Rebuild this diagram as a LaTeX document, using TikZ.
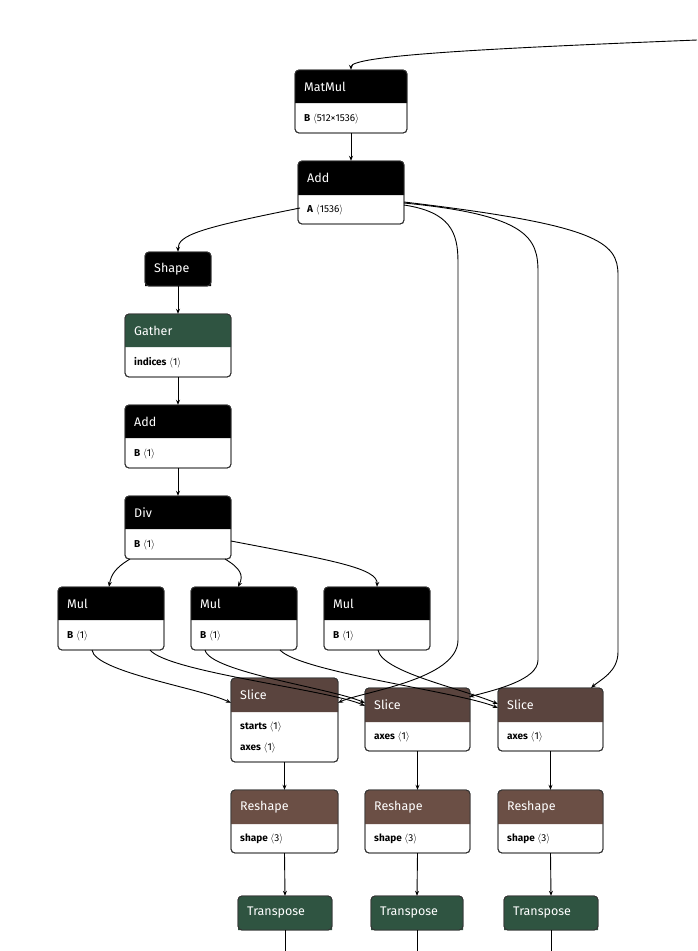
\documentclass[tikz,border=0pt]{standalone}
\usepackage{fontspec}
\setmainfont{Fira Sans}
\usetikzlibrary{fit,arrows.meta}
\definecolor{grn}{HTML}{2F5441}
\definecolor{slc}{HTML}{5A443E}
\definecolor{rsh}{HTML}{6B4F45}
\newcommand\la{\ensuremath{\langle}}
\newcommand\ra{\ensuremath{\rangle}}
\tikzset{
 edge/.style={draw=black,line width=0.9pt,-{Stealth[length=5pt,width=4pt]}},
 ttl/.style={anchor=west,text=white,font=\fontsize{12.5}{14}\selectfont,inner sep=0},
 row/.style={anchor=west,font=\fontsize{10}{11}\selectfont,inner sep=0},
}
% name x1 y1 x2 yh y2 color title
\newcommand\opn[8]{%
 \filldraw[fill=white,draw=black!80,line width=0.9pt,rounded corners=4pt] (#2,#3) rectangle (#4,#6);
 \fill[#7] (#2,#5) [rounded corners=4pt] -- (#2,#3) -- (#4,#3) [sharp corners] -- (#4,#5) -- cycle;
 \draw[black!80,line width=0.9pt,rounded corners=4pt] (#2,#3) rectangle (#4,#6);
 \node[fit={(#2,#3) (#4,#6)},inner sep=0] (#1) {};
 \node[ttl] (#1-t) at (#2+9,{(#3+#5)/2}) {#8};
}
\begin{document}
\begin{tikzpicture}[x=1pt,y=-1pt]
\useasboundingbox (0,0) rectangle (697,951);
\opn{mm}{295}{70}{407}{103}{133}{black}{MatMul}
\node[row] (mmr) at (304,119) {\textbf{B} \la512×1536\ra};
\opn{a1}{298}{161}{404}{195}{224}{black}{Add}
\node[row] (a1r) at (307,210) {\textbf{A} \la1536\ra};
\opn{sh}{145}{252}{211}{286}{286}{black}{Shape}
\opn{ga}{125}{314}{231}{347}{377}{grn}{Gather}
\node[row] (gar) at (134,363) {\textbf{indices} \la1\ra};
\opn{a2}{125}{405}{231}{438}{468}{black}{Add}
\node[row] (a2r) at (134,454) {\textbf{B} \la1\ra};
\opn{dv}{125}{496}{231}{529}{559}{black}{Div}
\node[row] (dvr) at (134,545) {\textbf{B} \la1\ra};
\opn{m1}{58}{587}{164}{620}{650}{black}{Mul}
\node[row] (m1r) at (67,636) {\textbf{B} \la1\ra};
\opn{m2}{191}{587}{297}{620}{650}{black}{Mul}
\node[row] (m2r) at (200,636) {\textbf{B} \la1\ra};
\opn{m3}{324}{587}{430}{620}{650}{black}{Mul}
\node[row] (m3r) at (333,636) {\textbf{B} \la1\ra};
\opn{s1}{231}{678}{338}{712}{762}{slc}{Slice}
\node[row] (s1r) at (240,727) {\textbf{starts} \la1\ra};
\node[row] (s1s) at (240,748) {\textbf{axes} \la1\ra};
\opn{s2}{365}{688}{470}{722}{751}{slc}{Slice}
\node[row] (s2r) at (374,737) {\textbf{axes} \la1\ra};
\opn{s3}{498}{688}{603}{722}{751}{slc}{Slice}
\node[row] (s3r) at (507,737) {\textbf{axes} \la1\ra};
\opn{r1}{231}{790}{338}{824}{853}{rsh}{Reshape}
\node[row] (r1r) at (240,839) {\textbf{shape} \la3\ra};
\opn{r2}{365}{790}{470}{824}{853}{rsh}{Reshape}
\node[row] (r2r) at (374,839) {\textbf{shape} \la3\ra};
\opn{r3}{498}{790}{603}{824}{853}{rsh}{Reshape}
\node[row] (r3r) at (507,839) {\textbf{shape} \la3\ra};
\opn{t1}{238}{896}{332}{930}{930}{grn}{Transpose}
\opn{t2}{371}{896}{463}{930}{930}{grn}{Transpose}
\opn{t3}{504}{896}{598}{930}{930}{grn}{Transpose}
\coordinate (in) at (697,40);
\coordinate (o1) at (285,951);
\coordinate (o2) at (417,951);
\coordinate (o3) at (551,951);
% edges
\draw[edge] (in) .. controls (500,48) and (351,55) .. (mm.north);
\draw[edge] (mm.south) -- (a1.north);
\draw[edge] (300,208) .. controls (200,228) and (178,235) .. (sh.north);
\draw[edge] (404,205) .. controls (450,212) and (458,232) .. (458,262) -- (458,640) .. controls (458,680) and (360,692) .. ([yshift=-25pt]s1.north east);
\draw[edge] (404,203) .. controls (528,215) and (538,238) .. (538,272) -- (538,660) .. controls (538,680) and (495,690) .. ([xshift=-1pt,yshift=-9pt]s2.north east);
\draw[edge] (404,202) .. controls (598,225) and (618,242) .. (618,275) -- (618,652) .. controls (618,672) and (600,680) .. ([xshift=-12pt]s3.north east);
\draw[edge] (sh.south) -- (ga.north);
\draw[edge] (ga.south) -- (a2.north);
\draw[edge] (a2.south) -- (dv.north);
\draw[edge] (130,559) .. controls (115,568) and (111,575) .. ([xshift=-2pt]m1.north);
\draw[edge] (225,559) .. controls (240,568) and (244,575) .. ([xshift=-6pt]m2.north);
\draw[edge] (231,541) .. controls (330,560) and (378,568) .. (m3.north);
\draw[edge] (92,650) .. controls (95,672) and (200,688) .. ([yshift=-25pt]s1.north west);
\draw[edge] (150,650) .. controls (168,672) and (330,690) .. ([yshift=-18pt]s2.north west);
\draw[edge] (205,650) .. controls (210,672) and (330,688) .. ([yshift=-15pt]s2.north west);
\draw[edge] (280,650) .. controls (300,672) and (460,692) .. ([yshift=-20pt]s3.north west);
\draw[edge] (378,650) .. controls (382,672) and (460,688) .. ([yshift=-16pt]s3.north west);
\draw[edge] (s1.south) -- (r1.north);
\draw[edge] (s2.south) -- (r2.north);
\draw[edge] (s3.south) -- (r3.north);
\draw[edge] (r1.south) -- (t1.north);
\draw[edge] (r2.south) -- (t2.north);
\draw[edge] (r3.south) -- (t3.north);
\draw[line width=0.9pt] (t1.south) -- (o1);
\draw[line width=0.9pt] (t2.south) -- (o2);
\draw[line width=0.9pt] (t3.south) -- (o3);
\end{tikzpicture}
\end{document}
